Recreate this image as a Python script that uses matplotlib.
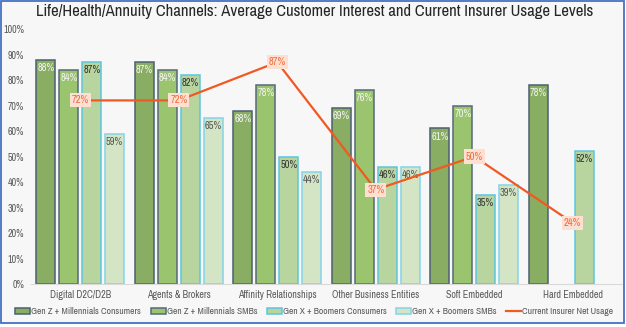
import numpy as np
import matplotlib.pyplot as plt
from matplotlib.patches import Rectangle

# categories and series (percent)
channels = ['Digital D2C/D2B', 'Agents & Brokers', 'Affinity Relationships',
            'Other Business Entities', 'Soft Embedded', 'Hard Embedded']
genz_consumers = [88, 87, 68, 69, 61, 78]
genz_smbs = [84, 84, 78, 76, 70, np.nan]
genx_consumers = [87, 82, 50, 46, 35, 52]
genx_smbs = [59, 65, 44, 46, 39, np.nan]
insurer_usage = [72, 72, 87, 37, 50, 24]

series_names = ['Gen Z + Millennials Consumers', 'Gen Z + Millennials SMBs',
                'Gen X + Boomers Consumers', 'Gen X + Boomers SMBs']
line_name = 'Current Insurer Net Usage'

plt.rcParams['font.family'] = ['Archivo Narrow', 'DejaVu Sans']

bg = '#f7f7f7'
fig = plt.figure(figsize=(6.26, 3.27), dpi=100, facecolor='white')
# light panel with the blue frame round it
fig.patches.append(Rectangle((0.002, 0.012), 0.995, 0.985, transform=fig.transFigure,
                             facecolor=bg, edgecolor='#4472c4', linewidth=1.3, zorder=-10))
ax = fig.add_axes([0.0495, 0.1315, 0.944, 0.7798])
ax.set_facecolor(bg)

fills = ['#89ad62', '#9bc46e', '#b8d5a0', '#d3e5c5']
edges = ['#4d6071', '#56687c', '#5cc6df', '#84d4ea']
label_colors = ['#f4f4f4', '#f4f4f4', '#333333', '#555555']

x = np.arange(len(channels))
step = 0.233
width = 0.193
data = [genz_consumers, genz_smbs, genx_consumers, genx_smbs]
handles = []
for i, vals in enumerate(data):
    pos = x + (i - 1.5) * step
    bars = ax.bar(pos, vals, width, color=fills[i], edgecolor=edges[i],
                  linewidth=1.1, label=series_names[i], zorder=2)
    handles.append(bars)
    for b, v in zip(bars, vals):
        if np.isnan(v):
            continue
        ax.text(b.get_x() + b.get_width() / 2, v - 1.2, f'{v:.0f}%',
                ha='center', va='top', fontsize=7.5, color=label_colors[i], zorder=3)

line, = ax.plot(x, insurer_usage, color='#f05a22', linewidth=1.6, label=line_name, zorder=4)
handles.append(line)
for xi, v in zip(x, insurer_usage):
    ax.text(xi, v, f'{v}%', ha='center', va='center', fontsize=7.5, color='#f26a3c',
            zorder=5, bbox=dict(boxstyle='square,pad=0.2', facecolor='#fde0d2',
                                edgecolor='none'))

ax.set_xlim(-0.5, len(channels) - 0.5)
ax.set_ylim(0, 100)
ax.set_yticks(np.arange(0, 101, 10))
ax.set_yticklabels([f'{t}%' for t in range(0, 101, 10)])
ax.set_xticks(x)
ax.set_xticklabels(channels)
ax.tick_params(axis='both', length=0, labelsize=7.2, colors='#595959')
ax.tick_params(axis='y', pad=5)
ax.tick_params(axis='x', pad=4)
for s in ['top', 'right', 'left']:
    ax.spines[s].set_visible(False)
ax.spines['bottom'].set_color('#d9d9d9')

fig.text(0.503, 0.965, 'Life/Health/Annuity Channels: Average Customer Interest and Current Insurer Usage Levels',
         ha='center', va='center', fontsize=12, color='#262626')

fig.legend(handles=handles, labels=series_names + [line_name], loc='center',
           bbox_to_anchor=(0.502, 0.046), ncol=5, frameon=False,
           fontsize=6.8, handlelength=1.6, handleheight=0.6, handletextpad=0.1,
           columnspacing=1.0, labelcolor='#595959')

fig.savefig('out.png', dpi=100, facecolor=fig.get_facecolor())
